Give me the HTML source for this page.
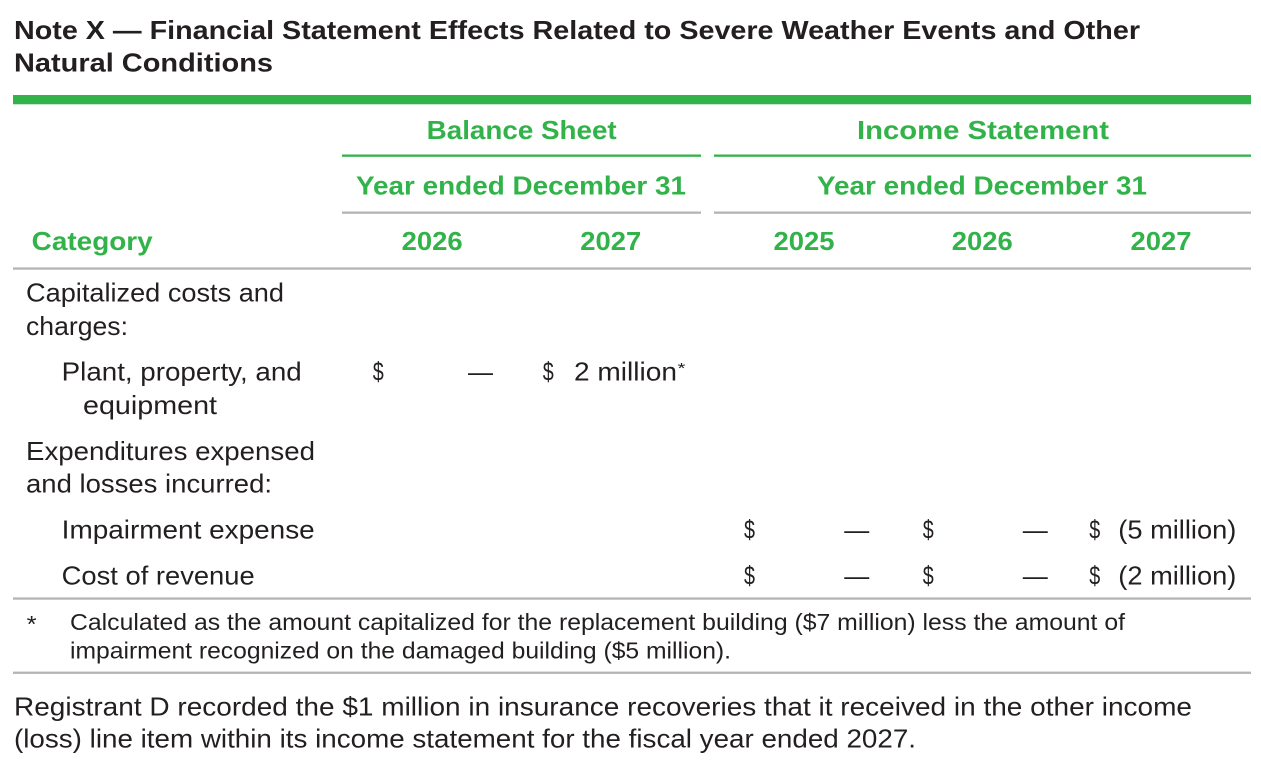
<!DOCTYPE html>
<html>
<head>
<meta charset="utf-8">
<style>
  html, body { margin: 0; padding: 0; background: #ffffff; }
  body { width: 1261px; height: 764px; overflow: hidden; }
  svg { display: block; }
  text { font-family: "Liberation Sans", "DejaVu Sans", sans-serif; }
  .t { font-weight: bold; fill: #231f20; font-size: 26px; }
  .h { font-weight: bold; fill: #32b34a; font-size: 26px; }
  .b { fill: #231f20; font-size: 26px; }
  .f { fill: #231f20; font-size: 23px; }
</style>
</head>
<body>
<svg width="1261" height="764" viewBox="0 0 1261 764" xmlns="http://www.w3.org/2000/svg">
  <rect x="0" y="0" width="1261" height="764" fill="#ffffff"/>

  <!-- Title -->
  <text class="t" x="14" y="39" textLength="1126" lengthAdjust="spacingAndGlyphs">Note X — Financial Statement Effects Related to Severe Weather Events and Other</text>
  <text class="t" x="14" y="71.5" textLength="259" lengthAdjust="spacingAndGlyphs">Natural Conditions</text>

  <!-- Green bar -->
  <rect x="13" y="95" width="1238" height="9.3" fill="#32b34a"/>

  <!-- Group headers -->
  <text class="h" x="426.7" y="139" textLength="190" lengthAdjust="spacingAndGlyphs">Balance Sheet</text>
  <text class="h" x="857" y="139" textLength="252" lengthAdjust="spacingAndGlyphs">Income Statement</text>
  <rect x="342" y="154.5" width="359" height="2.3" fill="#32b34a"/>
  <rect x="714" y="154.5" width="537" height="2.3" fill="#32b34a"/>

  <text class="h" x="356" y="194.3" textLength="330" lengthAdjust="spacingAndGlyphs">Year ended December 31</text>
  <text class="h" x="817" y="194.3" textLength="330" lengthAdjust="spacingAndGlyphs">Year ended December 31</text>
  <rect x="342" y="211.5" width="359" height="2.3" fill="#b3b5b4"/>
  <rect x="714" y="211.5" width="537" height="2.3" fill="#b3b5b4"/>

  <!-- Column headers -->
  <text class="h" x="31.7" y="250" textLength="121" lengthAdjust="spacingAndGlyphs">Category</text>
  <text class="h" x="401.7" y="250" textLength="61" lengthAdjust="spacingAndGlyphs">2026</text>
  <text class="h" x="580.3" y="250" textLength="61" lengthAdjust="spacingAndGlyphs">2027</text>
  <text class="h" x="773.5" y="250" textLength="61" lengthAdjust="spacingAndGlyphs">2025</text>
  <text class="h" x="951.8" y="250" textLength="61" lengthAdjust="spacingAndGlyphs">2026</text>
  <text class="h" x="1130.5" y="250" textLength="61" lengthAdjust="spacingAndGlyphs">2027</text>
  <rect x="13" y="267.4" width="1238" height="2.3" fill="#b3b5b4"/>

  <!-- Body rows -->
  <text class="b" x="26" y="301.7" textLength="258" lengthAdjust="spacingAndGlyphs">Capitalized costs and</text>
  <text class="b" x="26" y="335" textLength="102" lengthAdjust="spacingAndGlyphs">charges:</text>

  <text class="b" x="61.7" y="380.5" textLength="240" lengthAdjust="spacingAndGlyphs">Plant, property, and</text>
  <text class="b" x="83" y="414" textLength="134" lengthAdjust="spacingAndGlyphs">equipment</text>
  <text class="b" x="372.7" y="380.5" textLength="11" lengthAdjust="spacingAndGlyphs">$</text>
  <text class="b" x="468" y="380.5" textLength="25" lengthAdjust="spacingAndGlyphs">—</text>
  <text class="b" x="542.7" y="380.5" textLength="11" lengthAdjust="spacingAndGlyphs">$</text>
  <text class="b" x="574" y="380.5" textLength="103" lengthAdjust="spacingAndGlyphs">2 million</text>
  <text class="b" x="677.5" y="373" font-size="15" textLength="8" lengthAdjust="spacingAndGlyphs" style="font-size:15px">*</text>

  <text class="b" x="26" y="460" textLength="289" lengthAdjust="spacingAndGlyphs">Expenditures expensed</text>
  <text class="b" x="26" y="492.7" textLength="246" lengthAdjust="spacingAndGlyphs">and losses incurred:</text>

  <text class="b" x="61.7" y="538.3" textLength="253" lengthAdjust="spacingAndGlyphs">Impairment expense</text>
  <text class="b" x="744" y="538.3" textLength="11" lengthAdjust="spacingAndGlyphs">$</text>
  <text class="b" x="844.3" y="538.3" textLength="25" lengthAdjust="spacingAndGlyphs">—</text>
  <text class="b" x="922.7" y="538.3" textLength="11" lengthAdjust="spacingAndGlyphs">$</text>
  <text class="b" x="1022.7" y="538.3" textLength="25" lengthAdjust="spacingAndGlyphs">—</text>
  <text class="b" x="1089.3" y="538.3" textLength="11" lengthAdjust="spacingAndGlyphs">$</text>
  <text class="b" x="1118.3" y="538.3" textLength="118" lengthAdjust="spacingAndGlyphs">(5 million)</text>

  <text class="b" x="61.7" y="584.5" textLength="193" lengthAdjust="spacingAndGlyphs">Cost of revenue</text>
  <text class="b" x="744" y="584.5" textLength="11" lengthAdjust="spacingAndGlyphs">$</text>
  <text class="b" x="844.3" y="584.5" textLength="25" lengthAdjust="spacingAndGlyphs">—</text>
  <text class="b" x="922.7" y="584.5" textLength="11" lengthAdjust="spacingAndGlyphs">$</text>
  <text class="b" x="1022.7" y="584.5" textLength="25" lengthAdjust="spacingAndGlyphs">—</text>
  <text class="b" x="1089.3" y="584.5" textLength="11" lengthAdjust="spacingAndGlyphs">$</text>
  <text class="b" x="1118.3" y="584.5" textLength="118" lengthAdjust="spacingAndGlyphs">(2 million)</text>

  <rect x="13" y="597.4" width="1238" height="2.3" fill="#b3b5b4"/>

  <!-- Footnote -->
  <text class="f" x="26.7" y="632" textLength="10" lengthAdjust="spacingAndGlyphs">*</text>
  <text class="f" x="70" y="630" textLength="1055" lengthAdjust="spacingAndGlyphs">Calculated as the amount capitalized for the replacement building ($7 million) less the amount of</text>
  <text class="f" x="70" y="658.3" textLength="661" lengthAdjust="spacingAndGlyphs">impairment recognized on the damaged building ($5 million).</text>

  <rect x="13" y="671.6" width="1238" height="2.3" fill="#b3b5b4"/>

  <!-- Paragraph -->
  <text class="b" x="14" y="715.7" textLength="1178" lengthAdjust="spacingAndGlyphs">Registrant D recorded the $1 million in insurance recoveries that it received in the other income</text>
  <text class="b" x="14" y="747.7" textLength="902" lengthAdjust="spacingAndGlyphs">(loss) line item within its income statement for the fiscal year ended 2027.</text>
</svg>
</body>
</html>
